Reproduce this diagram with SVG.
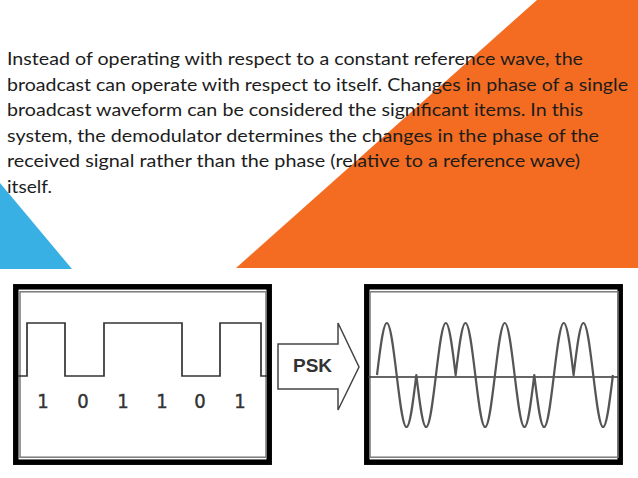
<svg xmlns="http://www.w3.org/2000/svg" width="638" height="478" viewBox="0 0 638 478">
<defs>
<style>
.body{font-family:Lato,"Open Sans","Liberation Sans",sans-serif;font-size:18px;fill:#1c1c1c}
.frame{fill:none;stroke:#000;stroke-width:5.5}
.inner{fill:none;stroke:#7a7a7a;stroke-width:1.5}
.sig{fill:none;stroke:#333;stroke-width:1.7}
.wave{fill:none;stroke:#555;stroke-width:2.2;stroke-linejoin:round}
.bit{font-family:"Liberation Sans Narrow","DejaVu Sans Condensed",sans-serif;font-size:20px;fill:#333;stroke:#333;stroke-width:0.4;text-anchor:middle}
.psk{font-family:"Liberation Sans",Arial,sans-serif;font-weight:bold;font-size:19px;fill:#333}
</style>
</defs>
<rect x="0" y="0" width="638" height="478" fill="#ffffff"/>
<polygon points="537,0 638,0 638,268 236,268" fill="#f36c21"/>
<polygon points="0,183 72,269 0,269" fill="#38b0e3"/>
<g id="paragraph">
<text class="body" x="7" y="65" textLength="576" lengthAdjust="spacingAndGlyphs">Instead of operating with respect to a constant reference wave, the</text>
<text class="body" x="7" y="90.6" textLength="621" lengthAdjust="spacingAndGlyphs">broadcast can operate with respect to itself. Changes in phase of a single</text>
<text class="body" x="7" y="116.2" textLength="576" lengthAdjust="spacingAndGlyphs">broadcast waveform can be considered the significant items. In this</text>
<text class="body" x="7" y="141.8" textLength="592" lengthAdjust="spacingAndGlyphs">system, the demodulator determines the changes in the phase of the</text>
<text class="body" x="7" y="167.4" textLength="573" lengthAdjust="spacingAndGlyphs">received signal rather than the phase (relative to a reference wave)</text>
<text class="body" x="7" y="193" textLength="45" lengthAdjust="spacingAndGlyphs">itself.</text>
</g>
<g id="input-box">
<rect class="frame" x="15.8" y="286.8" width="253.4" height="175.4"/>
<rect class="inner" x="20" y="291.8" width="246" height="165.4"/>
<path class="sig" d="M18,376 H27 V323 H65 V376 H104 V323 H182 V376 H220 V323 H261 V376 H267"/>
<text class="bit" x="43" y="408">1</text>
<text class="bit" x="83" y="408">0</text>
<text class="bit" x="123" y="408">1</text>
<text class="bit" x="162" y="408">1</text>
<text class="bit" x="200" y="408">0</text>
<text class="bit" x="240" y="408">1</text>
</g>
<g id="connectors">
<polygon points="278,344 338,344 338,323 359,367 338,410 338,389 278,389" fill="#ffffff" stroke="#444" stroke-width="1.5" stroke-linejoin="miter"/>
<text class="psk" x="293" y="372">PSK</text>
</g>
<g id="output-box">
<rect class="frame" x="366.8" y="286.8" width="253.4" height="175.4"/>
<rect class="inner" x="370" y="291.8" width="248" height="165.4"/>
<line class="sig" x1="368" y1="377" x2="618" y2="377"/>
<path class="wave" d="M377,375
c3.28,-27.3 6.27,-52 9.83,-52 c3.56,0 6.55,24.7 9.83,52
c3.28,27.3 6.27,52 9.83,52 c3.56,0 6.55,-24.7 9.83,-52
c3.28,27.3 6.27,52 9.83,52 c3.56,0 6.55,-24.7 9.83,-52
c3.28,-27.3 6.27,-52 9.83,-52 c3.56,0 6.55,24.7 9.83,52
c3.28,-27.3 6.27,-52 9.83,-52 c3.56,0 6.55,24.7 9.83,52
c3.28,27.3 6.27,52 9.83,52 c3.56,0 6.55,-24.7 9.83,-52
c3.28,-27.3 6.27,-52 9.83,-52 c3.56,0 6.55,24.7 9.83,52
c3.28,27.3 6.27,52 9.83,52 c3.56,0 6.55,-24.7 9.83,-52
c3.28,27.3 6.27,52 9.83,52 c3.56,0 6.55,-24.7 9.83,-52
c3.28,-27.3 6.27,-52 9.83,-52 c3.56,0 6.55,24.7 9.83,52
c3.28,-27.3 6.27,-52 9.83,-52 c3.56,0 6.55,24.7 9.83,52
c3.28,27.3 6.27,52 9.83,52 c3.56,0 6.55,-24.7 9.83,-52"/>
</g>
</svg>
